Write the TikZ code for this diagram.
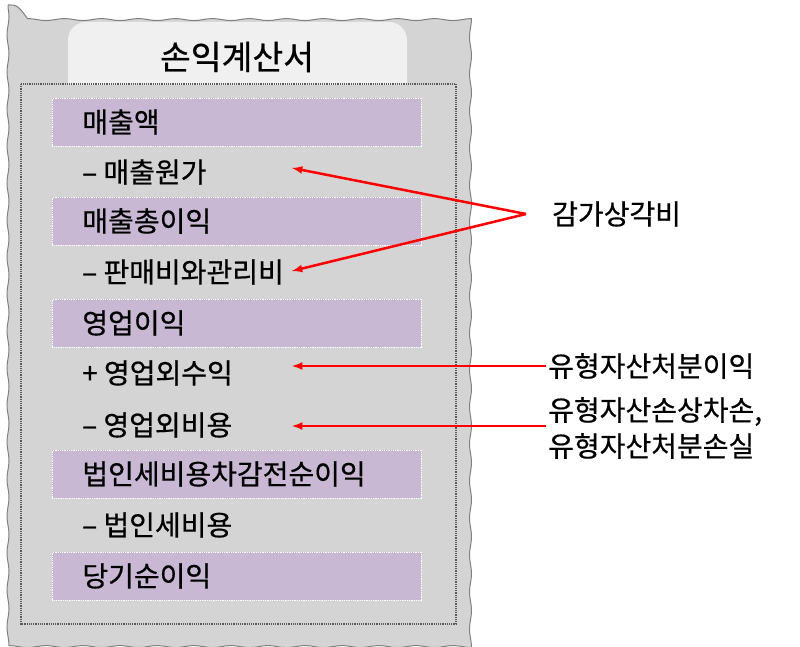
\documentclass[tikz,border=0pt]{standalone}
\usepackage{fontspec}
\setmainfont{Noto Sans CJK KR}[FakeBold=0.6]
\usetikzlibrary{decorations.pathmorphing}
\definecolor{paper}{HTML}{D4D4D4}
\definecolor{tabgray}{HTML}{F0F0F0}
\definecolor{barpurple}{HTML}{C8B8D4}
\newcommand{\bodyfont}{\fontsize{28}{36}\selectfont}
\tikzset{
  sumbar/.style={anchor=west, fill=barpurple, draw=white, densely dotted, line width=0.8pt,
    minimum width=369pt, minimum height=48pt, inner xsep=30pt, text width=309pt, align=left, font=\bodyfont},
  itemrow/.style={anchor=west, inner xsep=30pt, font=\bodyfont},
  pointer/.style={-latex, red, line width=2.5pt},
  note/.style={anchor=west, inner sep=2pt, align=left, font=\bodyfont}
}
\begin{document}
\begin{tikzpicture}[x=1pt, y=-1pt]
    \useasboundingbox (0,0) rectangle (800,647);
    % Paper %
    \draw[gray, line width=1pt, fill=paper, decorate,
          decoration={snake, amplitude=1pt, segment length=37pt}] (8,5) rectangle (470,638);
    \fill[tabgray] (68,85) {[rounded corners=18pt] -- (68,22) -- (407,22)} -- (407,85) -- cycle;
    \node[font=\fontsize{33.5}{40}\selectfont] (title) at (237,57) {손익계산서};
    \draw[densely dotted, line width=1.2pt, black!65] (21,84) rectangle (456,624);

    % Rows %
    \node[sumbar] (sales) at (52,122) {매출액};
    \node[itemrow] (cogs) at (52,172) {– 매출원가};
    \node[sumbar] (gross) at (52,221) {매출총이익};
    \node[itemrow] (sga) at (52,272) {– 판매비와관리비};
    \node[sumbar] (opinc) at (52,323) {영업이익};
    \node[itemrow] (nonopinc) at (52,373) {+ 영업외수익};
    \node[itemrow] (nonopexp) at (52,425) {– 영업외비용};
    \node[sumbar] (pretax) at (52,474) {법인세비용차감전순이익};
    \node[itemrow] (tax) at (52,525) {– 법인세비용};
    \node[sumbar] (netinc) at (52,576) {당기순이익};

    % Notes %
    \node[note] (dep) at (550,214) {감가상각비};
    \node[note] (gain) at (546,366) {유형자산처분이익};
    \node[note] (loss) at (546,428) {유형자산손상차손,\\유형자산처분손실};
    \coordinate (depfork) at (526,214);
    \coordinate (cogstip) at (292,168);
    \coordinate (sgatip) at (292,271);
    \coordinate (gaintip) at (292,366);
    \coordinate (losstip) at (292,426);

    % Arrows %
    \draw[pointer] (depfork) -- (cogstip);
    \draw[pointer] (depfork) -- (sgatip);
    \draw[pointer] (gain.west) -- (gaintip);
    \draw[pointer] (loss.west |- losstip) -- (losstip);
\end{tikzpicture}
\end{document}
